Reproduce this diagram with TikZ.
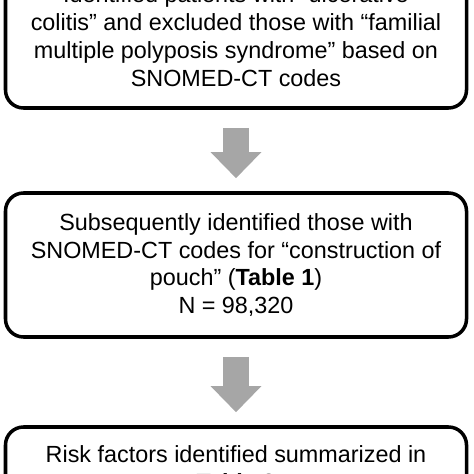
\documentclass[tikz,border=0pt]{standalone}
\usepackage{fontspec}
\setmainfont{Liberation Sans}
\usepackage{xcolor}
\usetikzlibrary{arrows.meta}
\definecolor{arrowgray}{RGB}{166,166,166}
\tikzset{
stepbox/.style={draw, line width=2pt, rounded corners=0.36cm, align=center,
  minimum width=9.22cm, minimum height=2.88cm, inner sep=0pt,
  font=\fontsize{13.3}{15.9}\selectfont},
blockarrow/.style={draw=arrowgray, line width=0.52cm,
  -{Triangle[width=0.98cm,length=0.52cm]}, shorten <=0.36cm, shorten >=0.26cm}
}

\begin{document}
\begin{tikzpicture}
\useasboundingbox (0,0) rectangle (9.48,-9.48);
\clip (0,0) rectangle (9.48,-9.48);
\node[stepbox] at (4.72, -0.72) (colitis) {Identified patients with “ulcerative\\ colitis” and excluded those with “familial\\ multiple polyposis syndrome” based on\\ SNOMED-CT codes};
\node[stepbox] at (4.72, -5.30) (pouch) {Subsequently identified those with\\ SNOMED-CT codes for “construction of\\ pouch” (\textbf{Table 1})\\ N = 98,320};
\node[stepbox, minimum height=1.64cm] at (4.72, -9.36) (risk) {Risk factors identified summarized in\\ \textbf{Table 2}};
\draw[blockarrow] (colitis) -- (pouch);
\draw[blockarrow] (pouch) -- (risk);
\end{tikzpicture}
\end{document}
